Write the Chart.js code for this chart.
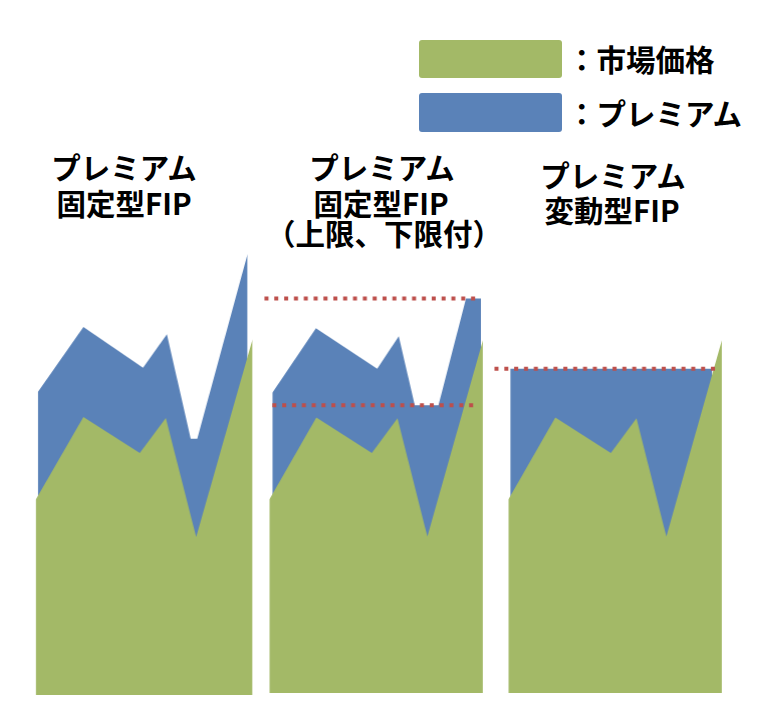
<!DOCTYPE html>
<html lang="ja">
<head>
<meta charset="utf-8">
<script src="https://cdn.jsdelivr.net/npm/chart.js@4.4.1/dist/chart.umd.min.js"></script>
<style>
  html, body { margin: 0; padding: 0; background: #fff; }
  body { width: 768px; height: 714px; position: relative; overflow: hidden;
         font-family: "Noto Sans CJK JP", "Noto Sans", sans-serif; font-weight: bold; color: #000; }
  .panel { position: absolute; top: 240px; width: 259.2px; height: 455px; }
  .txt { position: absolute; font-size: 29.5px; line-height: 30px; white-space: nowrap; }
  .ctr { width: 300px; text-align: center; }
  .swatch { position: absolute; left: 419px; width: 143px; border-radius: 3px; }
</style>
</head>
<body>

<div class="swatch" style="top:40px;height:38px;background:#a3b967;"></div>
<div class="swatch" style="top:93px;height:39px;background:#5a82b8;"></div>
<div class="txt" style="left:567px;top:43px;">：市場価格</div>
<div class="txt" style="left:567px;top:97px;">：プレミアム</div>

<div class="txt ctr" style="left:-26px;top:151px;">プレミアム</div>
<div class="txt ctr" style="left:-26px;top:187px;">固定型FIP</div>

<div class="txt ctr" style="left:232px;top:151px;">プレミアム</div>
<div class="txt ctr" style="left:231px;top:187px;">固定型FIP</div>
<div class="txt ctr" style="left:234px;top:217px;">（上限、下限付）</div>

<div class="txt ctr" style="left:463px;top:159px;">プレミアム</div>
<div class="txt ctr" style="left:462px;top:194px;">変動型FIP</div>

<div class="panel" style="left:14.4px;"><canvas id="fixedChart"></canvas></div>
<div class="panel" style="left:246.4px;"><canvas id="capChart"></canvas></div>
<div class="panel" style="left:485.4px;"><canvas id="floatChart"></canvas></div>

<script>
// market price, same path in all three panels (x = period, y = price index)
const periods = [0, 2.2, 4.8, 6.0, 7.4, 10];
const marketPrice = [42.9, 61.1, 53.2, 60.9, 34.7, 78.2];

// market price + premium, fixed premium
const fixedX = [0.1, 2.2, 4.95, 6.05, 7.15, 7.45, 9.77];
const fixedTotal = [66.6, 80.9, 71.9, 79.3, 56.3, 56.3, 96.9];

// market price + premium, with cap and floor
const capX = [0.14, 2.18, 5.05, 6.06, 6.81, 7.92, 9.21, 9.91];
const capTotal = [66.6, 80.9, 71.9, 79.1, 63.8, 63.8, 87.5, 87.5];
const capUpper = 87.5;
const capLower = 63.8;
const capUpperRange = [-0.23, 9.86];
const capLowerRange = [0.14, 9.75];

// floating premium: total held at the reference price
const floatX = [0.09, 9.55];
const floatTotal = [71.9, 71.9];
const floatRef = 71.9;
const floatRefRange = [-0.65, 9.75];

const GREEN = '#a3b967';
const BLUE = '#5a82b8';
const RED = '#bd4f4b';

const charts = {};

function pts(xs, ys) {
    return xs.map((x, i) => ({ x: x, y: ys[i] }));
}

function areaSet(data, color, order) {
    return {
        data: data,
        order: order,
        fill: 'origin',
        backgroundColor: color,
        borderColor: 'rgba(0,0,0,0)',
        borderWidth: 0,
        pointRadius: 0,
        tension: 0
    };
}

function dottedSet(range, level) {
    return {
        data: pts(range, [level, level]),
        order: 0,
        fill: false,
        borderColor: RED,
        borderWidth: 4,
        borderDash: [4, 5.8],
        borderCapStyle: 'butt',
        pointRadius: 0
    };
}

function renderPanel(id, totalData, extra) {
    const ctx = document.getElementById(id)?.getContext('2d');
    if (!ctx) return;

    charts[id] = new Chart(ctx, {
        type: 'line',
        data: {
            datasets: [
                areaSet(pts(periods, marketPrice), GREEN, 1),
                areaSet(totalData, BLUE, 2)
            ].concat(extra)
        },
        options: {
            responsive: true,
            maintainAspectRatio: false,
            animation: false,
            events: [],
            layout: { padding: 0 },
            plugins: {
                legend: { display: false },
                tooltip: { enabled: false }
            },
            scales: {
                x: { type: 'linear', min: -1, max: 11, display: false },
                y: { min: 0, max: 100, display: false }
            }
        }
    });
}

renderPanel('fixedChart', pts(fixedX, fixedTotal), []);
renderPanel('capChart', pts(capX, capTotal), [
    dottedSet(capUpperRange, capUpper),
    dottedSet(capLowerRange, capLower)
]);
renderPanel('floatChart', pts(floatX, floatTotal), [
    dottedSet(floatRefRange, floatRef)
]);
</script>
</body>
</html>
